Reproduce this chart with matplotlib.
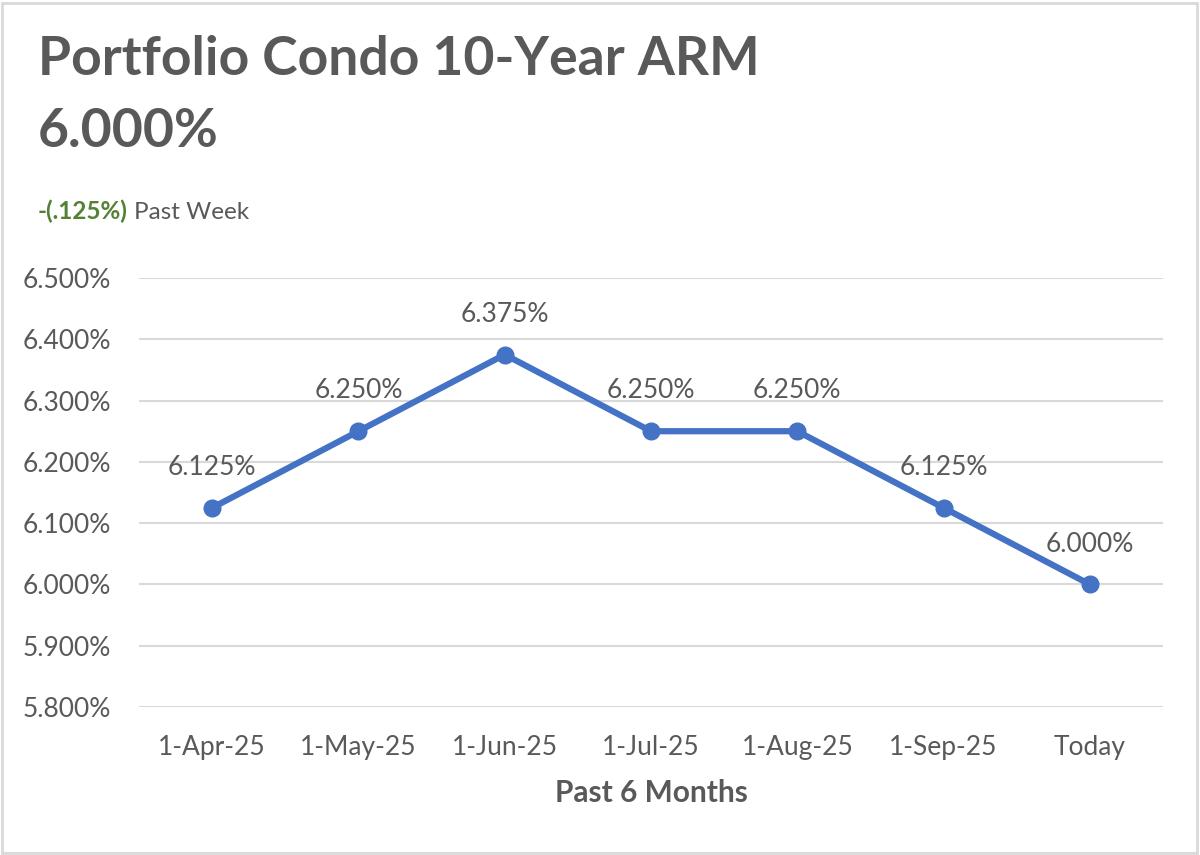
import matplotlib
matplotlib.use("Agg")
import matplotlib.pyplot as plt
from matplotlib.patches import Rectangle
from matplotlib.ticker import FuncFormatter

categories = ["1-Apr-25", "1-May-25", "1-Jun-25", "1-Jul-25", "1-Aug-25", "1-Sep-25", "Today"]
rates = [6.125, 6.250, 6.375, 6.250, 6.250, 6.125, 6.000]
yticks = [5.8, 5.9, 6.0, 6.1, 6.2, 6.3, 6.4, 6.5]
title_line1 = "Portfolio Condo 10-Year ARM"
title_line2 = "6.000%"
change_text = "-(.125%)"
change_label = "Past Week"
xlabel = "Past 6 Months"

plt.rcParams['font.family'] = ['Lato', 'DejaVu Sans']
GRAY = "#595959"
BLUE = "#4472C4"
GREEN = "#548235"

W, H = 1200, 855
fig = plt.figure(figsize=(W / 100, H / 100), dpi=100)
fig.patch.set_facecolor("white")

# border
fig.add_artist(Rectangle((2 / W, 2 / H), (W - 5) / W, (H - 5) / H, transform=fig.transFigure,
                         fill=False, edgecolor="#D9D9D9", linewidth=2))

left, right = 139, 1163
top, bottom = 278, 707
ax = fig.add_axes([left / W, 1 - bottom / H, (right - left) / W, (bottom - top) / H])
x = list(range(len(categories)))
ax.plot(x, rates, color=BLUE, linewidth=4.5, marker="o", markersize=12, zorder=3)
ax.set_xlim(-0.5, len(categories) - 0.5)
ax.set_ylim(5.8, 6.5)
ax.set_yticks(yticks)
ax.yaxis.set_major_formatter(FuncFormatter(lambda v, p: f"{v:.3f}%"))
ax.set_xticks(x)
ax.set_xticklabels(categories)
ax.grid(axis="y", color="#D9D9D9", linewidth=1.5)
ax.set_axisbelow(True)
for s in ax.spines.values():
    s.set_visible(False)
ax.tick_params(axis="both", length=0, labelsize=19, colors=GRAY)
ax.tick_params(axis="y", pad=20)
ax.tick_params(axis="x", pad=20)

for xi, v in zip(x, rates):
    ax.annotate(f"{v:.3f}%", (xi, v), xytext=(0, 20), textcoords="offset points",
                ha="center", va="bottom", fontsize=19, color=GRAY)

ax.set_xlabel(xlabel, fontsize=21.5, fontweight="bold", color=GRAY, labelpad=14)

fig.text(38 / W, 1 - 75 / H, title_line1, fontsize=38.5, fontweight="bold", color=GRAY,
         ha="left", va="baseline")
fig.text(38 / W, 1 - 147 / H, title_line2, fontsize=38.5, fontweight="bold", color=GRAY,
         ha="left", va="baseline")
t1 = fig.text(38 / W, 1 - 219 / H, change_text, fontsize=17.5, fontweight="bold", color=GREEN,
              ha="left", va="baseline")
fig.canvas.draw()
bb = t1.get_window_extent()
fig.text((bb.x1 + 6) / W, 1 - 219 / H, change_label, fontsize=17.5, color=GRAY,
         ha="left", va="baseline")

fig.savefig("out.png", dpi=100, facecolor="white")
